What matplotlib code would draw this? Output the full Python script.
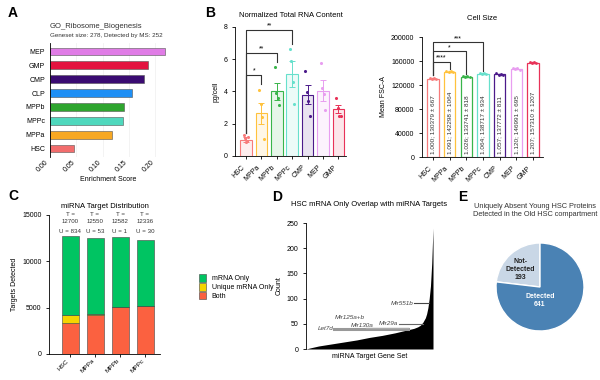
import numpy as np
import matplotlib
matplotlib.use("Agg")
import matplotlib.pyplot as plt
from matplotlib.patches import Patch

plt.rcParams["font.family"] = ["Liberation Sans", "DejaVu Sans"]
plt.rcParams["font.size"] = 5
plt.rcParams["axes.linewidth"] = 0.6
plt.rcParams["xtick.major.width"] = 0.6
plt.rcParams["ytick.major.width"] = 0.6
plt.rcParams["xtick.major.size"] = 2
plt.rcParams["ytick.major.size"] = 2

# ---------------- data ----------------
# A
go_cells = ["HSC", "MPPa", "MPPc", "MPPb", "CLP", "CMP", "GMP", "MEP"]
go_scores = [0.046, 0.118, 0.138, 0.140, 0.156, 0.178, 0.186, 0.218]
go_colors = ["#f26d6d", "#f7a823", "#4fd8bd", "#2ea52e", "#1e8ff5", "#3a0b72", "#e3123f", "#e07ce6"]

# B (left)
b_cells = ["HSC", "MPPa", "MPPb", "MPPc", "CMP", "MEP", "GMP"]
b_colors = ["#f77b7b", "#ffc23d", "#39b54a", "#67e0cc", "#4b1a8a", "#e89ef0", "#e83258"]
rna_mean = [1.0, 2.65, 4.0, 5.1, 3.8, 4.05, 2.9]
rna_err = [0.15, 0.65, 0.5, 0.8, 0.6, 0.65, 0.25]
rna_points = [
    [1.3, 1.1, 0.85, 0.9, 1.15],
    [4.1, 3.2, 2.4, 1.05],
    [5.5, 3.9, 3.6, 3.15],
    [6.65, 5.9, 4.6, 3.2],
    [5.3, 3.95, 3.4, 2.5],
    [5.75, 4.2, 3.85, 2.85],
    [3.6, 3.0, 2.45, 2.5],
]
rna_sig = [(1, 5.0, 4.45, "*"), (2, 6.4, 5.85, "**"), (3, 7.8, 6.95, "**")]

# B (right)
fsc_mean = [130379, 142298, 133741, 138717, 137772, 146991, 157310]
fsc_sem = [667, 1064, 818, 934, 811, 695, 1207]
fsc_ratio = ["1.000", "1.091", "1.026", "1.064", "1.057", "1.120", "1.207"]
fsc_sig = [(1, 158000, 147000, "****"), (2, 176000, 139000, "*"), (3, 191000, 143000, "***")]

# C
c_cells = ["HSC", "MPPa", "MPPb", "MPPc"]
c_total = [12700, 12550, 12582, 12336]
c_unique = [834, 53, 1, 30]
c_both = [3350, 4230, 5050, 5130]

# D  (sorted overlap counts, read at evenly spaced positions)
d_frac = [0.0, 0.03, 0.1, 0.2, 0.3, 0.4, 0.5, 0.6, 0.7, 0.75, 0.8, 0.85, 0.88,
          0.9, 0.92, 0.94, 0.95, 0.96, 0.97, 0.98, 0.99, 0.995, 1.0]
d_count = [0, 2, 6, 10, 14, 18, 23, 27, 32, 35, 38, 41, 44,
           47, 53, 62, 70, 82, 100, 125, 170, 205, 240]
d_mirs = ["Let7d", "Mir125a+b", "Mir130a", "Mir29a", "Mir551b"]

# E
e_labels = ["Not-\nDetected\n193", "Detected\n641"]
e_values = [193, 641]
e_colors = ["#c9d7e6", "#4a82b4"]


def rect(l, t, r, b):
    return [l / 600, 1 - b / 380, (r - l) / 600, (b - t) / 380]


def clean(ax):
    ax.spines["top"].set_visible(False)
    ax.spines["right"].set_visible(False)


fig = plt.figure(figsize=(6, 3.8), dpi=100)

# ---------------- A ----------------
ax = fig.add_axes(rect(50, 43, 166, 157))
ypos = np.arange(len(go_cells))
ax.barh(ypos, go_scores, height=0.55, color=go_colors, edgecolor="#555555", linewidth=0.4)
ax.set_yticks(ypos)
ax.set_yticklabels(go_cells)
ax.set_xlim(0, 0.22)
ax.set_ylim(-0.6, 7.6)
ax.set_xticks([0, 0.05, 0.10, 0.15, 0.20])
ax.set_xticklabels(["0.00", "0.05", "0.10", "0.15", "0.20"], rotation=45, ha="right")
ax.set_xlabel("Enrichment Score", labelpad=2)
ax.spines["top"].set_visible(False)
ax.spines["right"].set_visible(False)
ax.spines["bottom"].set_visible(False)
ax.tick_params(axis="y", length=0)
ax.tick_params(axis="x", length=0, pad=1)
ax.xaxis.grid(True, color="#eeeeee", linewidth=0.5)
ax.set_axisbelow(True)
fig.text(50 / 600, 1 - 27 / 380, "GO_Ribosome_Biogenesis", fontsize=5.5, color="#333333", va="center")
fig.text(50 / 600, 1 - 35 / 380, "Geneset size: 278, Detected by MS: 252", fontsize=4.5, color="#333333", va="center")
fig.text(8 / 600, 1 - 13 / 380, "A", fontsize=10, fontweight="bold", va="center")

# ---------------- B left ----------------
ax = fig.add_axes(rect(235, 27, 346, 156))
x = np.arange(len(b_cells))
for i in x:
    ax.bar(i, rna_mean[i], width=0.75, facecolor=b_colors[i], alpha=0.12)
    ax.bar(i, rna_mean[i], width=0.75, facecolor="none", edgecolor=b_colors[i], linewidth=0.8)
    ax.errorbar(i, rna_mean[i], yerr=rna_err[i], color=b_colors[i], capsize=2, linewidth=0.7, capthick=0.7)
    pts = rna_points[i]
    ax.scatter(i + np.linspace(-0.15, 0.15, len(pts)), pts, s=5, color=b_colors[i], zorder=3, linewidths=0)
for j, ytop, yend, star in rna_sig:
    ax.plot([0, 0, j, j], [1.45, ytop, ytop, yend], color="#333333", linewidth=0.8)
    ax.text(j / 2, ytop + 0.05, star, ha="center", va="bottom", fontsize=5)
ax.set_xlim(-0.72, 6.5)
ax.set_ylim(0, 8)
ax.set_yticks([0, 2, 4, 6, 8])
ax.set_xticks(x)
ax.set_xticklabels(b_cells, rotation=45, ha="right")
ax.set_ylabel("pg/cell", labelpad=3)
clean(ax)
ax.set_title("Normalized Total RNA Content", fontsize=5.5, pad=7)
fig.text(205 / 600, 1 - 13 / 380, "B", fontsize=10, fontweight="bold", va="center")

# ---------------- B right ----------------
ax = fig.add_axes(rect(422, 37, 543, 157))
for i in x:
    ax.bar(i, fsc_mean[i], width=0.68, facecolor="white", edgecolor=b_colors[i], linewidth=0.9)
    ax.errorbar(i, fsc_mean[i], yerr=fsc_sem[i], color=b_colors[i], capsize=1.5, linewidth=0.7)
    pts = [fsc_mean[i] + d for d in (1500, -800, 600, -1200)]
    ax.scatter(i + np.linspace(-0.2, 0.2, 4), pts, s=4, color=b_colors[i], zorder=3, linewidths=0)
    ax.text(i, 5000, f"{fsc_ratio[i]}; {fsc_mean[i]} \u00b1 {fsc_sem[i]}", rotation=90,
            ha="center", va="bottom", fontsize=4.6, color="#333333")
for j, ytop, yend, star in fsc_sig:
    ax.plot([0, 0, j, j], [136000, ytop, ytop, yend], color="#333333", linewidth=0.8)
    ax.text(j / 2, ytop + 800, star, ha="center", va="bottom", fontsize=5)
ax.set_xlim(-0.66, 6.6)
ax.set_ylim(0, 200000)
ax.set_yticks(range(0, 200001, 40000))
ax.set_xticks(x)
ax.set_xticklabels(b_cells, rotation=45, ha="right")
ax.set_ylabel("Mean FSC-A", labelpad=3)
clean(ax)
ax.set_title("Cell Size", fontsize=5.5, pad=12)

# ---------------- C ----------------
ax = fig.add_axes(rect(49, 215, 160, 354))
xc = np.arange(len(c_cells))
only = [t - b - u for t, b, u in zip(c_total, c_both, c_unique)]
ax.bar(xc, c_both, width=0.68, color="#fb6140", edgecolor="#444444", linewidth=0.4)
ax.bar(xc, c_unique, bottom=c_both, width=0.68, color="#f5d400", edgecolor="#444444", linewidth=0.4)
ax.bar(xc, only, bottom=np.array(c_both) + np.array(c_unique), width=0.68, color="#00c462",
       edgecolor="#444444", linewidth=0.4)
for i in xc:
    ax.text(i, 15050, "T =", ha="center", va="center", fontsize=4.4, color="#333333")
    ax.text(i, 14250, f"{c_total[i]}", ha="center", va="center", fontsize=4.4, color="#333333")
    ax.text(i, 13250, f"U = {c_unique[i]}", ha="center", va="center", fontsize=4.4, color="#333333")
ax.set_xlim(-0.84, 3.6)
ax.set_ylim(0, 15000)
ax.set_yticks([0, 5000, 10000, 15000])
ax.set_xticks(xc)
ax.set_xticklabels(c_cells, rotation=45, ha="right", fontsize=4.6)
ax.tick_params(axis="x", pad=1)
ax.set_ylabel("Targets Detected", labelpad=3)
clean(ax)
ax.set_title("miRNA Target Distribution", fontsize=5.5, pad=5)
fig.legend(handles=[Patch(facecolor="#00c462", edgecolor="#444444", linewidth=0.4, label="mRNA Only"),
                    Patch(facecolor="#f5d400", edgecolor="#444444", linewidth=0.4, label="Unique mRNA Only"),
                    Patch(facecolor="#fb6140", edgecolor="#444444", linewidth=0.4, label="Both")],
           loc="center left", bbox_to_anchor=(193 / 600, 1 - 287 / 380), frameon=False, fontsize=5,
           handlelength=1.0, handleheight=1.3, labelspacing=0.1, handletextpad=0.8)
fig.text(8 / 600, 1 - 196 / 380, "C", fontsize=10, fontweight="bold", va="center")

# ---------------- D ----------------
ax = fig.add_axes(rect(306, 223, 433, 349))
ax.fill_between(d_frac, 0, d_count, color="black", linewidth=0)
ax.plot([0.22, 0.80], [40, 40], color="#999999", linewidth=2.2)
ax.plot([0.47, 0.80], [42, 42], color="#aaaaaa", linewidth=1)
ax.plot([0.73, 0.92], [50, 50], color="#666666", linewidth=0.8)
ax.plot([0.85, 0.97], [91, 91], color="#444444", linewidth=0.8)
mir_pos = [(0.215, 40), (0.46, 62), (0.53, 46), (0.725, 50), (0.845, 91)]
for name, (mx, my) in zip(d_mirs, mir_pos):
    ax.text(mx, my, name, ha="right", va="center", fontsize=4.6, style="italic", color="#444444")
ax.set_xlim(0, 1)
ax.set_ylim(0, 250)
ax.set_yticks(range(0, 251, 50))
ax.set_xticks([])
ax.set_xlabel("miRNA Target Gene Set", labelpad=3)
ax.set_ylabel("Count", labelpad=3)
for s in ("top", "right", "bottom"):
    ax.spines[s].set_visible(False)
ax.set_title("HSC mRNA Only Overlap with miRNA Targets", fontsize=5.5, pad=12)
fig.text(272 / 600, 1 - 197 / 380, "D", fontsize=10, fontweight="bold", va="center")

# ---------------- E ----------------
ax = fig.add_axes(rect(485, 232, 595, 342))
wedges, _ = ax.pie(e_values, colors=e_colors, startangle=90, counterclock=True,
                   wedgeprops=dict(edgecolor="white", linewidth=1))
ax.text(-0.45, 0.4, e_labels[0], ha="center", va="center", fontsize=5, fontweight="bold", color="#222222")
ax.text(0.0, -0.3, e_labels[1], ha="center", va="center", fontsize=5, fontweight="bold", color="white")
ax.set_aspect("equal")
fig.text(535 / 600, 1 - 210 / 380, "Uniquely Absent Young HSC Proteins\nDetected in the Old HSC compartment",
         ha="center", va="center", fontsize=5.3, color="#333333")
fig.text(458 / 600, 1 - 197 / 380, "E", fontsize=10, fontweight="bold", va="center")

fig.savefig("out.png", dpi=100)
